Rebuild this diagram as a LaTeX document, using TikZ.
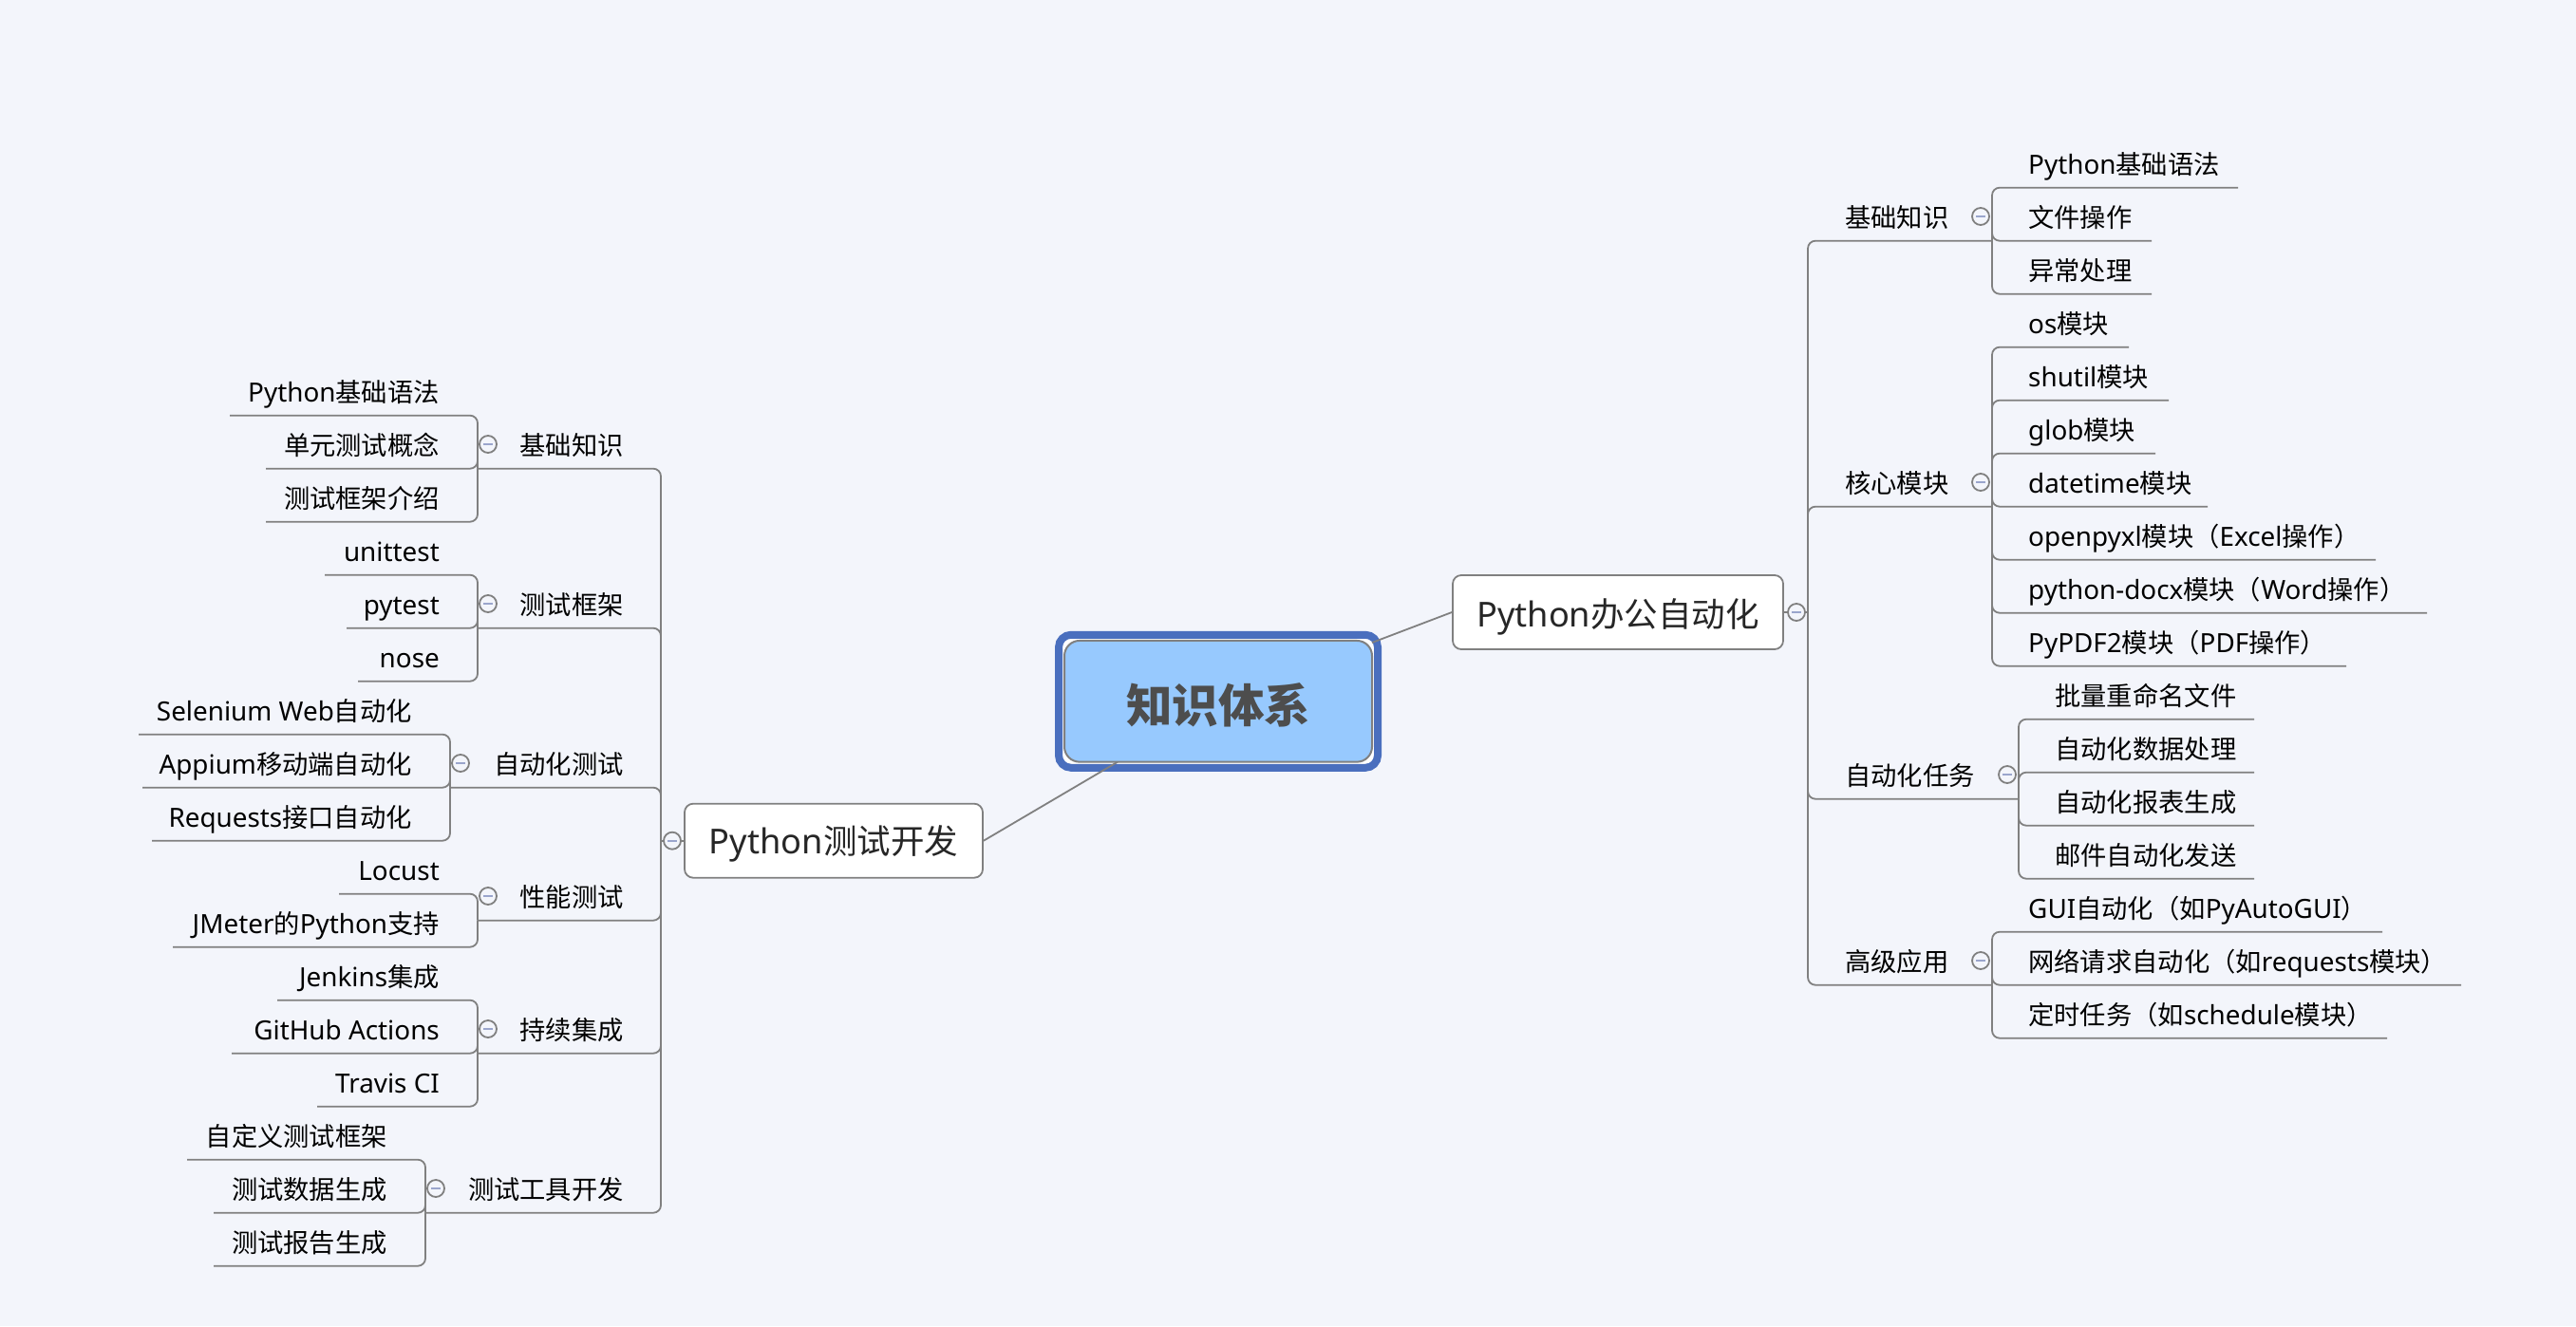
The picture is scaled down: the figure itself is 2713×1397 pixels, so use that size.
\documentclass[tikz,border=0pt]{standalone}
\usepackage{fontspec}
\setmainfont{Noto Sans}[Scale=1.02]
\newfontfamily\cjk{Noto Sans CJK SC}
\definecolor{bgc}{HTML}{F3F5FB}
\definecolor{linec}{HTML}{808080}
\definecolor{framec}{HTML}{4A6FBE}
\definecolor{rootc}{HTML}{97C9FE}
\definecolor{minusc}{HTML}{9AA5CC}
\definecolor{roottext}{HTML}{4D4D4D}
\newcommand{\zh}[1]{{\cjk #1}}
\tikzset{
  conn/.style={draw=linec,line width=1.8pt,rounded corners=8pt},
  leaf/.style={inner sep=0pt,font=\fontsize{27.3}{32}\selectfont,text=black},
  branchbox/.style={draw=linec,line width=1.8pt,fill=white,rounded corners=9pt,minimum width=348pt,minimum height=78pt,inner sep=0pt,font=\fontsize{35.5}{42}\selectfont,text=black!85},
  rootframe/.style={draw=framec,line width=8pt,fill=white,rounded corners=13pt,minimum width=336pt,minimum height=140pt,inner sep=0pt},
  rootbox/.style={draw=linec,line width=2pt,fill=rootc,rounded corners=16pt,minimum width=324pt,minimum height=127.7pt,inner sep=0pt,font=\fontsize{48.5}{56}\selectfont\bfseries,text=roottext},
  collapse/.style={circle,draw=linec,line width=1.8pt,fill=bgc,minimum size=18pt,inner sep=0pt,
    path picture={\draw[minusc,line width=2pt]
      ([xshift=-5pt]path picture bounding box.center) -- ([xshift=5pt]path picture bounding box.center);}},
}
% name, joint, bracket x, underline y, far end x, text
\newcommand{\rleaf}[6]{%
  \coordinate (#1-end) at (#5,#4);
  \node[leaf,anchor=base west] (#1) at (#3+38,#4-14.2) {#6};
  \draw[conn] (#2) |- (#1-end);}
\newcommand{\lleaf}[6]{%
  \coordinate (#1-end) at (#5,#4);
  \node[leaf,anchor=base east] (#1) at (#3-40,#4-14.2) {#6};
  \draw[conn] (#2) |- (#1-end);}
% name, trunk, bracket x, y, text
\newcommand{\rgrp}[5]{%
  \coordinate (#1) at (#3,#4);
  \draw[conn] (#2) |- (#1);
  \node[leaf,anchor=base west] (#1-t) at (1943,#4-14.2) {#5};
  \node[collapse] (#1-c) at (#3-12,#4-25.7) {};}
\newcommand{\lgrp}[5]{%
  \coordinate (#1) at (#3,#4);
  \draw[conn] (#2) |- (#1);
  \node[leaf,anchor=base east] (#1-t) at (657,#4-14.2) {#5};
  \node[collapse] (#1-c) at (#3+11,#4-25.7) {};}
\begin{document}
\begin{tikzpicture}[x=1pt,y=-1pt]
\useasboundingbox (0,0) rectangle (2713,1397);
\fill[bgc] (0,0) rectangle (2713,1397);
\node[rootframe] (frame) at (1283,738.8) {};
\node[branchbox] (office) at (1704,645) {\raisebox{-15pt}[0pt][0pt]{Python\zh{办公自动化}}};
\node[branchbox,minimum width=314pt] (testdev) at (878,885.7) {\raisebox{-14pt}[0pt][0pt]{Python\zh{测试开发}}};
\coordinate (rootne) at (1445,677);
\coordinate (rootsw) at (1177,802.7);
\draw[conn] (rootne) -- (office.west);
\draw[conn] (rootsw) -- (testdev.east);
\node[rootbox] (root) at (1283,738.8) {\raisebox{-22.5pt}[0pt][0pt]{\zh{知识体系}}};
% right trunk
\coordinate (rt) at (1904,645);
\draw[conn] (office.east) -- (rt);
\rgrp{ra}{rt}{2098}{253.7}{\zh{基础知识}}
\rleaf{ra1}{ra}{2098}{197.7}{2357}{Python\zh{基础语法}}
\rleaf{ra2}{ra}{2098}{253.7}{2266}{\zh{文件操作}}
\rleaf{ra3}{ra}{2098}{309.7}{2266}{\zh{异常处理}}
\rgrp{rb}{rt}{2098}{533.7}{\zh{核心模块}}
\rleaf{rb1}{rb}{2098}{365.7}{2242}{os\zh{模块}}
\rleaf{rb2}{rb}{2098}{421.7}{2284}{shutil\zh{模块}}
\rleaf{rb3}{rb}{2098}{477.7}{2270}{glob\zh{模块}}
\rleaf{rb4}{rb}{2098}{533.7}{2325}{datetime\zh{模块}}
\rleaf{rb5}{rb}{2098}{589.7}{2502}{openpyxl\zh{模块（}Excel\zh{操作）}}
\rleaf{rb6}{rb}{2098}{645.7}{2556}{python-docx\zh{模块（}Word\zh{操作）}}
\rleaf{rb7}{rb}{2098}{701.7}{2471}{PyPDF2\zh{模块（}PDF\zh{操作）}}
\rgrp{rc}{rt}{2126}{841.7}{\zh{自动化任务}}
\rleaf{rc1}{rc}{2126}{757.7}{2374}{\zh{批量重命名文件}}
\rleaf{rc2}{rc}{2126}{813.7}{2374}{\zh{自动化数据处理}}
\rleaf{rc3}{rc}{2126}{869.7}{2374}{\zh{自动化报表生成}}
\rleaf{rc4}{rc}{2126}{925.7}{2374}{\zh{邮件自动化发送}}
\rgrp{rd}{rt}{2098}{1037.7}{\zh{高级应用}}
\rleaf{rd1}{rd}{2098}{981.7}{2509}{GUI\zh{自动化（如}PyAutoGUI\zh{）}}
\rleaf{rd2}{rd}{2098}{1037.7}{2592}{\zh{网络请求自动化（如}requests\zh{模块）}}
\rleaf{rd3}{rd}{2098}{1093.7}{2514}{\zh{定时任务（如}schedule\zh{模块）}}
\node[collapse] (rtc) at (1892,645) {};
% left trunk
\coordinate (lt) at (696,885.7);
\draw[conn] (testdev.west) -- (lt);
\lgrp{la}{lt}{503}{493.7}{\zh{基础知识}}
\lleaf{la1}{la}{503}{437.7}{242}{Python\zh{基础语法}}
\lleaf{la2}{la}{503}{493.7}{280}{\zh{单元测试概念}}
\lleaf{la3}{la}{503}{549.7}{280}{\zh{测试框架介绍}}
\lgrp{lb}{lt}{503}{661.7}{\zh{测试框架}}
\lleaf{lb1}{lb}{503}{605.7}{342}{unittest}
\lleaf{lb2}{lb}{503}{661.7}{365}{pytest}
\lleaf{lb3}{lb}{503}{717.7}{377}{nose}
\lgrp{lc}{lt}{474}{829.7}{\zh{自动化测试}}
\lleaf{lc1}{lc}{474}{773.7}{146}{Selenium Web\zh{自动化}}
\lleaf{lc2}{lc}{474}{829.7}{150}{Appium\zh{移动端自动化}}
\lleaf{lc3}{lc}{474}{885.7}{160}{Requests\zh{接口自动化}}
\lgrp{ld}{lt}{503}{969.7}{\zh{性能测试}}
\lleaf{ld1}{ld}{503}{941.7}{357}{Locust}
\lleaf{ld2}{ld}{503}{997.7}{182}{JMeter\zh{的}Python\zh{支持}}
\lgrp{le}{lt}{503}{1109.7}{\zh{持续集成}}
\lleaf{le1}{le}{503}{1053.7}{292}{Jenkins\zh{集成}}
\lleaf{le2}{le}{503}{1109.7}{244}{GitHub Actions}
\lleaf{le3}{le}{503}{1165.7}{334}{Travis CI}
\lgrp{lf}{lt}{448}{1277.7}{\zh{测试工具开发}}
\lleaf{lf1}{lf}{448}{1221.7}{197}{\zh{自定义测试框架}}
\lleaf{lf2}{lf}{448}{1277.7}{225}{\zh{测试数据生成}}
\lleaf{lf3}{lf}{448}{1333.7}{225}{\zh{测试报告生成}}
\node[collapse] (ltc) at (708,885.7) {};
\end{tikzpicture}
\end{document}
